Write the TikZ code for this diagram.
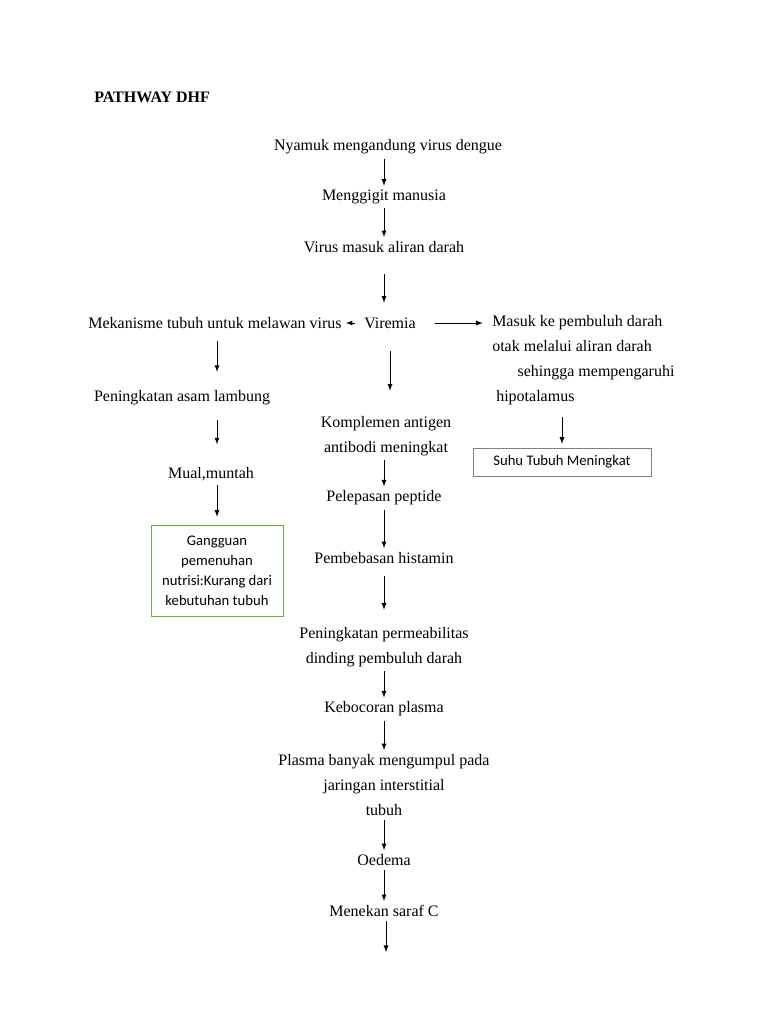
\documentclass[tikz,border=0pt]{standalone}
\usepackage{fontspec}
\setmainfont{Liberation Serif}
\newfontfamily\boxfont{Carlito}
\usetikzlibrary{arrows,positioning}
\definecolor{boxgreen}{RGB}{112,173,71}

\begin{document}
\begin{tikzpicture}[x=0.75pt, y=-0.75pt, node distance=1.5cm,
  txt/.style={font=\fontsize{12}{18.75}\selectfont, align=center, inner sep=3pt},
  box/.style={draw, font=\boxfont\fontsize{11}{15}\selectfont, align=center, inner sep=3pt},
  arr/.style={-latex, line width=0.7pt}]
\useasboundingbox (0,0) rectangle (768,1024);
\node[txt, anchor=west, font=\fontsize{12}{14}\selectfont\bfseries] (title) at (90,97) {PATHWAY DHF};
% middle column
\node[txt] (nyamuk) at (388,147) {Nyamuk mengandung virus dengue};
\node[txt] (gigit) at (384,197) {Menggigit manusia};
\node[txt] (virus) at (384,247) {Virus masuk aliran darah};
\node[txt] (viremia) at (390,323) {Viremia};
\node[txt] (komplemen) at (386,436) {Komplemen antigen\\antibodi meningkat};
\node[txt] (peptide) at (384,498) {Pelepasan peptide};
\node[txt] (histamin) at (384,558) {Pembebasan histamin};
\node[txt] (permea) at (384,647) {Peningkatan permeabilitas\\dinding pembuluh darah};
\node[txt] (bocor) at (384,709) {Kebocoran plasma};
\node[txt] (plasma) at (384,785) {Plasma banyak mengumpul pada\\jaringan interstitial\\tubuh};
\node[txt] (oedema) at (384,860) {Oedema};
\node[txt] (saraf) at (384,911) {Menekan saraf C};
\coordinate (end) at (386,952);
% left column
\node[txt] (mekanisme) at (215,323) {Mekanisme tubuh untuk melawan virus};
\node[txt] (asam) at (182,398) {Peningkatan asam lambung};
\node[txt] (mual) at (211,474) {Mual,muntah};
\node[box, draw=boxgreen, minimum width=132*0.75pt, minimum height=91*0.75pt] (gizi) at (217,570.5)
  {Gangguan\\pemenuhan\\nutrisi:Kurang dari\\kebutuhan tubuh};
% right column
\node[txt, anchor=north west, align=left] (masuk) at (488,311) {Masuk ke pembuluh darah\\otak melalui aliran darah\\\hspace*{19pt}sehingga mempengaruhi\\\hspace*{3pt}hipotalamus};
\node[box, draw=gray, minimum width=178*0.75pt, minimum height=28*0.75pt] (suhu) at (562,462) {Suhu Tubuh Meningkat};

\draw[arr] (nyamuk.south -| gigit) -- (gigit);
\draw[arr] (gigit) -- (virus);
\draw[arr, shorten <=13pt, shorten >=8pt] (virus) -- (virus |- viremia.north);
\draw[arr, shorten <=4pt] (viremia) -- (mekanisme);
\draw[arr, shorten <=11pt, shorten >=4pt] (viremia.east) -- (viremia.east -| masuk.west);
\draw[arr, shorten <=14pt, shorten >=16pt] (viremia.south) -- (viremia.south |- komplemen.north);
\draw[arr] (komplemen.south -| peptide) -- (peptide);
\draw[arr] (peptide) -- (histamin);
\draw[arr, shorten <=6pt, shorten >=10pt] (histamin) -- (permea);
\draw[arr] (permea) -- (bocor);
\draw[arr] (bocor) -- (plasma);
\draw[arr] (plasma) -- (oedema);
\draw[arr] (oedema) -- (saraf);
\draw[arr] (saraf.south -| end) -- (end);
\draw[arr, shorten <=6pt, shorten >=11pt] (mekanisme.south -| gizi) -- (asam.north -| gizi);
\draw[arr, shorten <=8pt, shorten >=14pt] (asam.south -| gizi) -- (mual.north -| gizi);
\draw[arr, shorten >=6pt] (mual.south -| gizi) -- (gizi.north);
\draw[arr, shorten <=6pt, shorten >=3pt] (masuk.south -| suhu) -- (suhu.north);
\end{tikzpicture}
\end{document}
